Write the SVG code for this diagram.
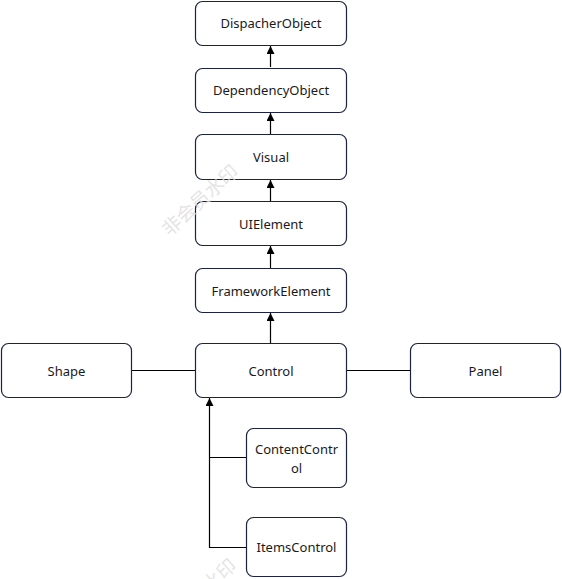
<svg xmlns="http://www.w3.org/2000/svg" width="562" height="579" viewBox="0 0 562 579">
<defs>
<style>
.box{fill:#ffffff;stroke:#1c2340;stroke-width:1.2}
.lbl{font-family:"Noto Sans","Open Sans",sans-serif;font-size:13px;fill:#1a1a1a;text-anchor:middle}
.ln{fill:none;stroke:#000000;stroke-width:1.2}
.wm{font-family:"Noto Sans CJK SC",sans-serif;font-size:19px;fill:#dddddd;fill-opacity:0.8;text-anchor:middle}
</style>
<marker id="arr" viewBox="0 0 10 10" refX="10" refY="5" markerWidth="8" markerHeight="8" markerUnits="userSpaceOnUse" orient="auto">
<path d="M0,0 L10,5 L0,10 Z" fill="#000"/>
</marker>
</defs>
<rect width="562" height="579" fill="#ffffff"/>
<g id="connectors">
<line class="ln" x1="270.5" y1="67" x2="270.5" y2="46" marker-end="url(#arr)"/>
<line class="ln" x1="270.5" y1="134" x2="270.5" y2="113" marker-end="url(#arr)"/>
<line class="ln" x1="270.5" y1="201" x2="270.5" y2="180" marker-end="url(#arr)"/>
<line class="ln" x1="270.5" y1="268" x2="270.5" y2="246" marker-end="url(#arr)"/>
<line class="ln" x1="270.5" y1="343" x2="270.5" y2="313" marker-end="url(#arr)"/>
<line class="ln" x1="132" y1="370.5" x2="195" y2="370.5"/>
<line class="ln" x1="347" y1="370.5" x2="410" y2="370.5"/>
<polyline class="ln" points="246,457.5 209.5,457.5"/>
<polyline class="ln" points="246,547.5 209.5,547.5 209.5,398" marker-end="url(#arr)"/>
</g>
<g id="DispacherObject"><rect class="box" x="195.5" y="1.5" width="151" height="44" rx="7"/><text class="lbl" x="271" y="28">DispacherObject</text></g>
<g id="DependencyObject"><rect class="box" x="195.5" y="68.5" width="151" height="44" rx="7"/><text class="lbl" x="271" y="95">DependencyObject</text></g>
<g id="Visual"><rect class="box" x="195.5" y="134.5" width="151" height="45" rx="7"/><text class="lbl" x="271" y="162">Visual</text></g>
<g id="UIElement"><rect class="box" x="195.5" y="201.5" width="151" height="44" rx="7"/><text class="lbl" x="271" y="229">UIElement</text></g>
<g id="FrameworkElement"><rect class="box" x="195.5" y="268.5" width="151" height="44" rx="7"/><text class="lbl" x="271" y="296">FrameworkElement</text></g>
<g id="Shape"><rect class="box" x="1.5" y="343.5" width="130" height="54" rx="7"/><text class="lbl" x="66.5" y="376">Shape</text></g>
<g id="Control"><rect class="box" x="195.5" y="343.5" width="151" height="54" rx="7"/><text class="lbl" x="271" y="376">Control</text></g>
<g id="Panel"><rect class="box" x="410.5" y="343.5" width="150" height="54" rx="7"/><text class="lbl" x="485.5" y="376">Panel</text></g>
<g id="ContentControl"><rect class="box" x="246.5" y="428.5" width="100" height="59" rx="7"/><text class="lbl" x="296.5" y="454">ContentContr</text><text class="lbl" x="296.5" y="473">ol</text></g>
<g id="ItemsControl"><rect class="box" x="246.5" y="517.5" width="100" height="59" rx="7"/><text class="lbl" x="296.5" y="552">ItemsControl</text></g>
<g id="watermark">
<text class="wm" transform="translate(200,200) rotate(-42)" dy="7">非会员水印</text>
<text class="wm" transform="translate(198,594) rotate(-42)" dy="7">非会员水印</text>
</g>
</svg>
